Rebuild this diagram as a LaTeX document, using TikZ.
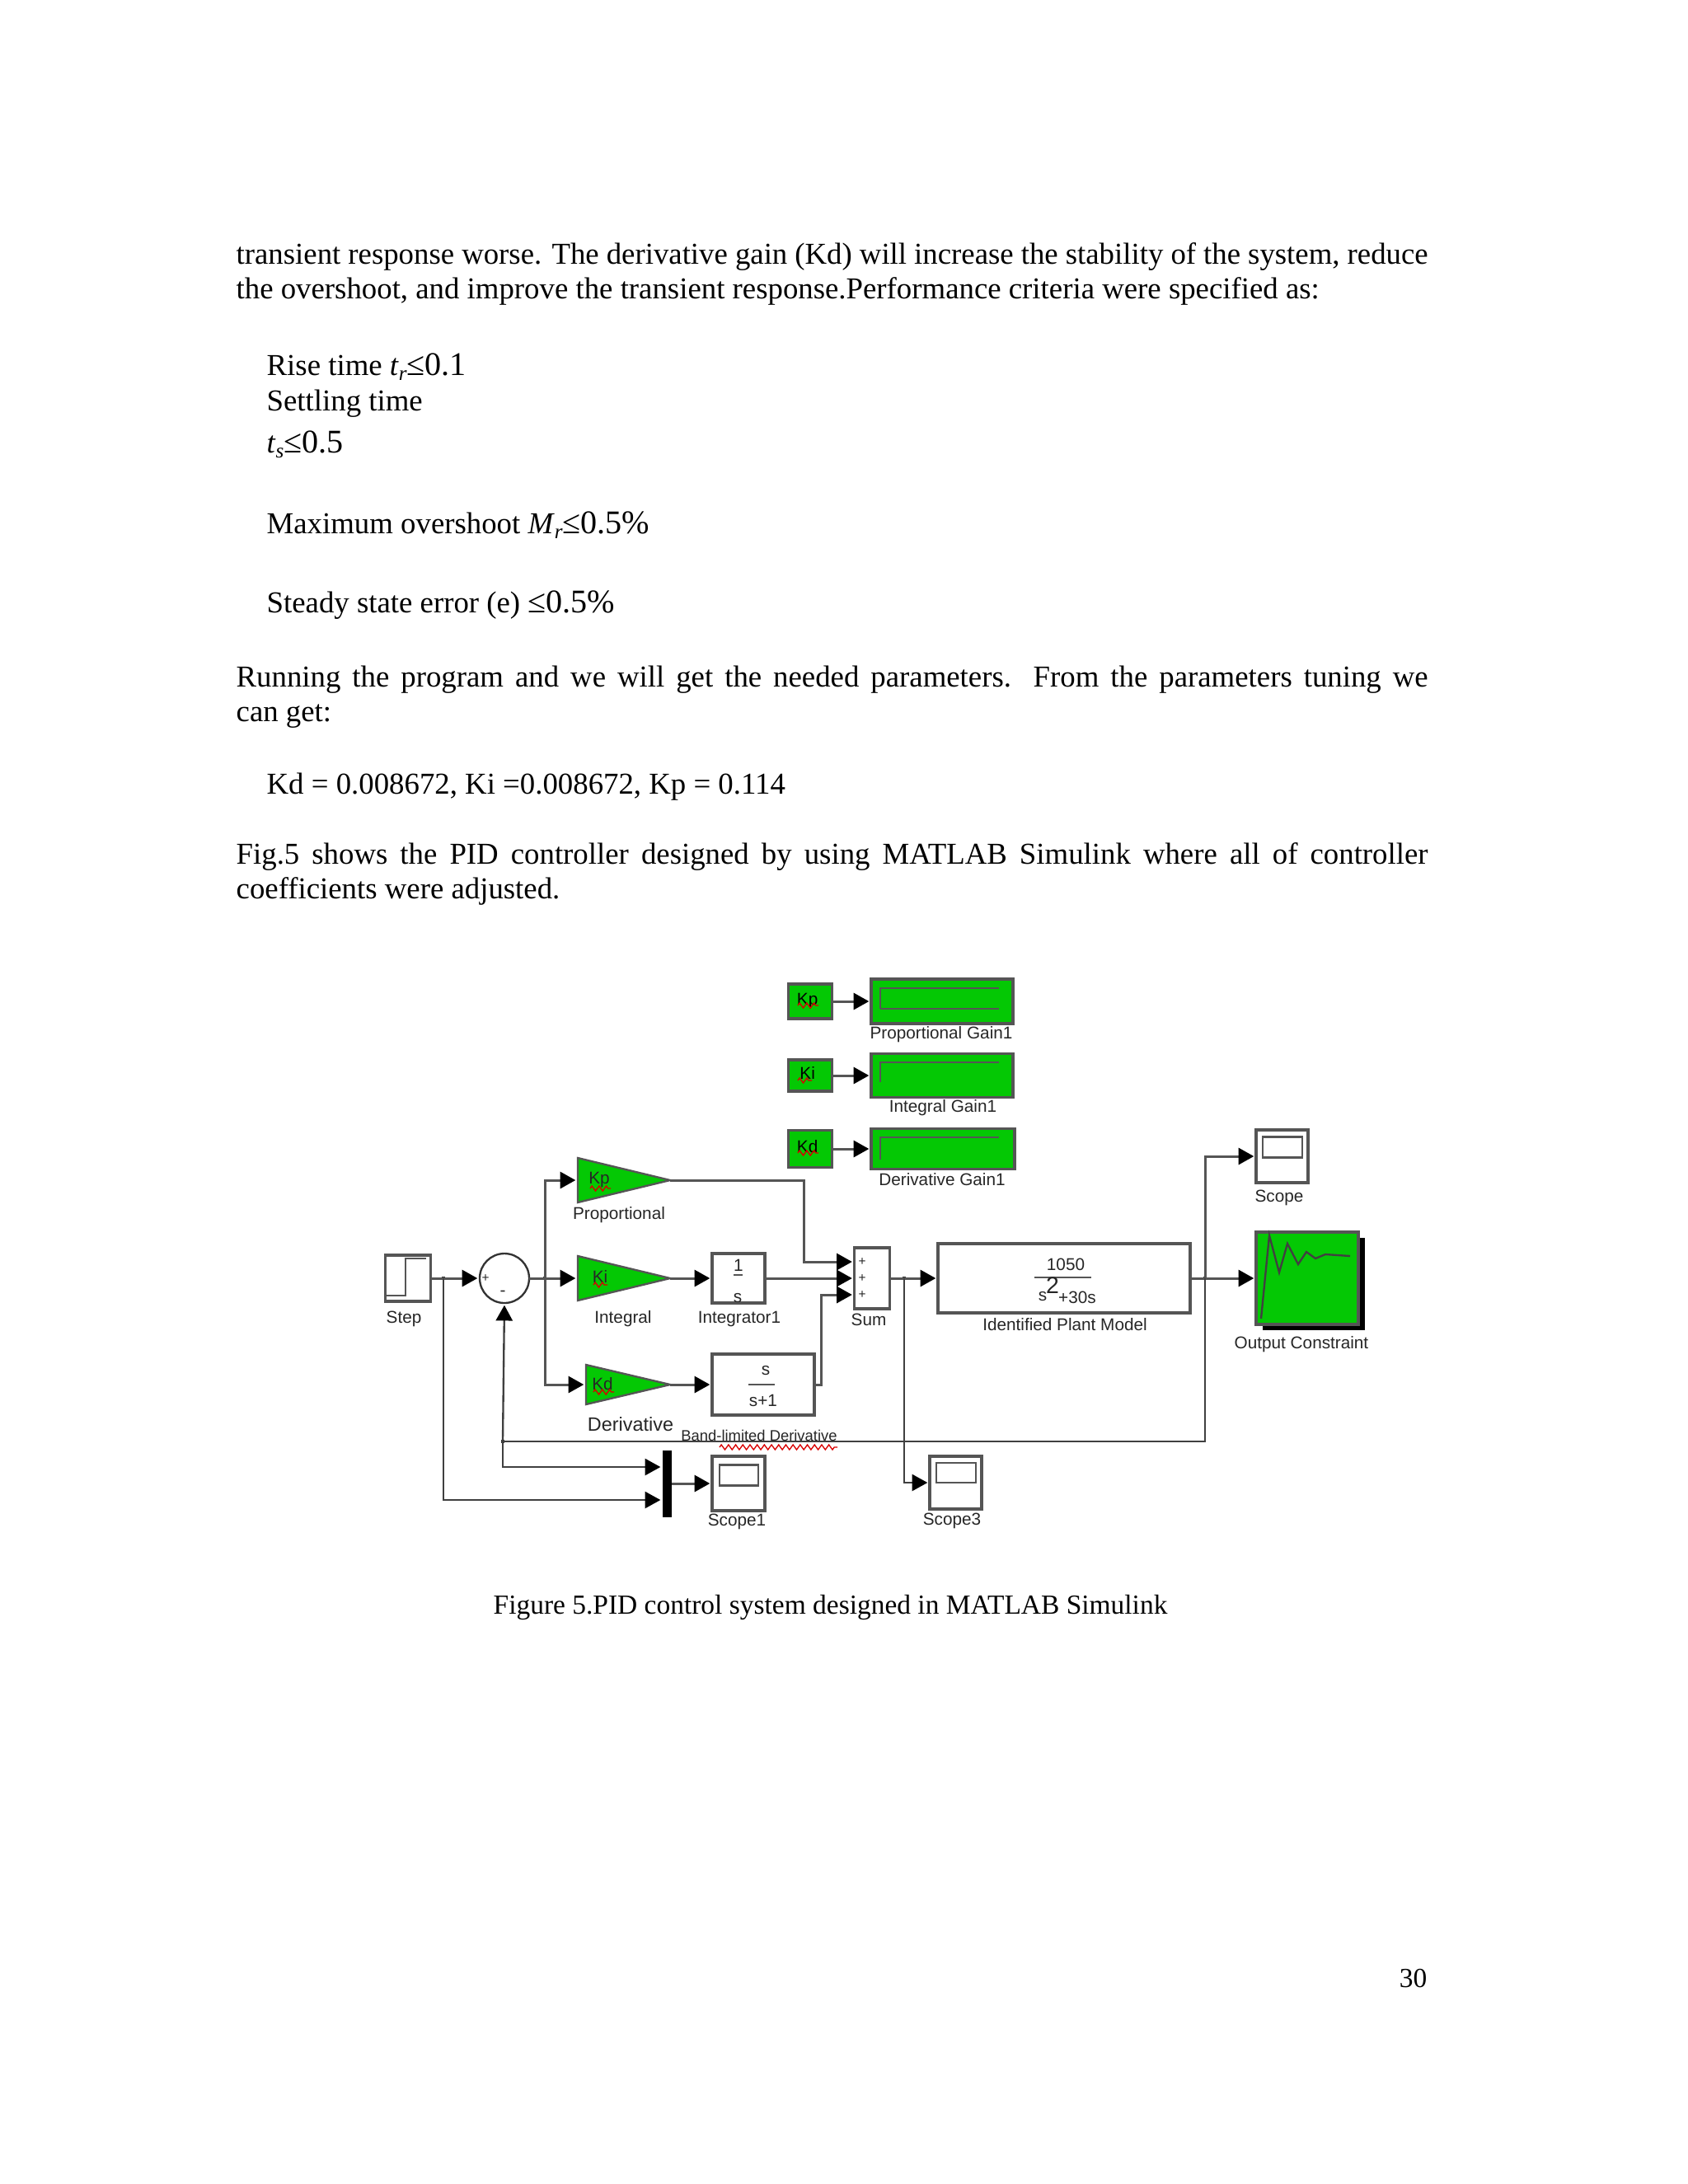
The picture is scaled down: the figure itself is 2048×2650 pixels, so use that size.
\documentclass[tikz,border=0pt]{standalone}
\usepackage{fontspec}
\setmainfont{Liberation Serif}
\setsansfont{Liberation Sans}
\usetikzlibrary{shapes.geometric, arrows.meta, positioning, calc, shadows, decorations.pathmorphing}
\definecolor{simgreen}{RGB}{4, 200, 4}
\definecolor{edge}{RGB}{85, 85, 85}
\def\px{0.2989pt}
\newcommand{\subit}[2]{\textit{#1}\raisebox{-2pt}{\fontsize{7.5}{8}\selectfont\textit{#2}}}
\newcommand{\bigrel}[1]{{\fontsize{12}{14}\selectfont #1}}
\newcommand{\fullline}[1]{\makebox[432.2pt][s]{#1}}
\newcommand{\tagtxt}[1]{\raisebox{1.6pt}{#1\hspace{2pt}}}
\tikzset{
    wh/.style 2 args={minimum width=#1*\px, minimum height=#2*\px},
    pline/.style={anchor=base west, inner sep=0pt, font=\fontsize{11}{13}\selectfont},
    block/.style={rectangle, draw=edge, line width=1pt, inner sep=0pt, outer sep=0pt, fill=white},
    gblock/.style={block, fill=simgreen, font=\sffamily\fontsize{6.2}{8}\selectfont},
    gain/.style={isosceles triangle, isosceles triangle stretches, shape border rotate=0, anchor=apex, draw=edge, line width=0.7pt, fill=simgreen, inner sep=0pt, outer sep=0pt},
    lbl/.style={inner sep=0pt, text=black!85, font=\sffamily\fontsize{6.2}{8}\selectfont},
    gtag/.style={lbl, font=\sffamily\fontsize{6.2}{8}\selectfont},
    tfnum/.style={lbl, font=\sffamily\fontsize{6.2}{8}\selectfont},
    sgn/.style={lbl, font=\sffamily\fontsize{4.6}{5}\selectfont},
    junc/.style={rectangle, fill=black!80, inner sep=0pt, minimum size=1.3pt},
    wire/.style={edge, line width=0.9pt},
    thin wire/.style={black!75, line width=0.7pt},
    arr/.style={wire, -{Triangle[length=5.6pt, width=6pt, black]}, shorten >=0.8pt},
    squig/.style={red!85!black, line width=0.4pt, decorate, decoration={zigzag, amplitude=0.9pt, segment length=2.6pt}}
}
\begin{document}
\begin{tikzpicture}[x=\px, y=-\px]
    \useasboundingbox (0,0) rectangle (2048,2650);
    \node[pline] (t1) at (286,320) {\fullline{transient response worse. The derivative gain (Kd) will increase the stability of the system, reduce}};
    \node[pline] (t2) at (286,362) {the overshoot, and improve the transient response.Performance criteria were specified as:};
    \node[pline] (t3) at (323,455) {Rise time \subit{t}{r}\bigrel{≤0.1}};
    \node[pline] (t4) at (323,498) {Settling time};
    \node[pline] (t5) at (323,549) {\subit{t}{s}\bigrel{≤0.5}};
    \node[pline] (t6) at (323,647) {Maximum overshoot \subit{M}{r}\bigrel{≤0.5\%}};
    \node[pline] (t7) at (323,743) {Steady state error (e) \bigrel{≤0.5\%}};
    \node[pline] (t8) at (286,833) {\fullline{Running the program and we will get the needed parameters. From the parameters tuning we}};
    \node[pline] (t9) at (286,875) {can get:};
    \node[pline] (t10) at (323,963) {Kd = 0.008672, Ki =0.008672, Kp = 0.114};
    \node[pline] (t11) at (286,1048) {\fullline{Fig.5 shows the PID controller designed by using MATLAB Simulink where all of controller}};
    \node[pline] (t12) at (286,1090) {coefficients were adjusted.};
    \node[pline, font=\fontsize{10}{12}\selectfont] (cap) at (598,1958) {Figure 5.PID control system designed in MATLAB Simulink};
    \node[pline, anchor=base east, font=\fontsize{10}{12}\selectfont] (pageno) at (1732,2411) {30};

    \node[lbl] (lpg) at (1142,1255) {Proportional Gain1};
    \node[lbl] (lig) at (1144,1344) {Integral Gain1};
    \node[lbl] (ldg) at (1143,1431) {Derivative Gain1};

    \node[gblock, wh={53}{42}] (kpc) at (983,1215) {\tagtxt{Kp}};
    \node[gblock, wh={53}{38}] (kic) at (983,1305) {\tagtxt{Ki}};
    \node[gblock, wh={53}{45}] (kdc) at (983,1394) {\tagtxt{Kd}};
    \node[block, fill=simgreen, wh={172}{54}] (kpd) at (1143,1215) {};
    \node[block, fill=simgreen, wh={172}{53}] (kid) at (1143,1305) {};
    \node[block, fill=simgreen, wh={174}{49}] (kdd) at (1144,1394) {};
    \draw[edge, line width=0.8pt] (1068,1224) -- (1068,1199) -- (1212,1199);
    \draw[edge, line width=0.8pt] (1068,1224) -- (1212,1224);
    \draw[edge, line width=0.8pt] (1068,1313) -- (1068,1289) -- (1212,1289);
    \draw[edge, line width=0.8pt] (1068,1407) -- (1068,1380) -- (1212,1380);
    \draw[arr] (kpc) -- (kpd);
    \draw[arr] (kic) -- (kid);
    \draw[arr] (kdc) -- (kdd);

    \node[gain, wh={54}{112}] (kpgain) at (813,1432) {};
    \node[gain, wh={54}{112}] (kigain) at (813,1551) {};
    \node[gain, wh={48}{102}] (kdgain) at (813,1680) {};
    \node[gtag] (kptag) at (727,1431) {Kp};
    \node[gtag] (kitag) at (728,1549) {Ki};
    \node[gtag] (kdtag) at (731,1679) {Kd};
    \node[lbl] (lkp) at (751,1474) {Proportional};
    \node[lbl] (lki) at (756,1600) {Integral};
    \node[lbl, font=\sffamily\fontsize{7}{8}\selectfont] (lkd) at (765,1728) {Derivative};

    \node[block, wh={55}{56}] (stepb) at (495,1551) {};
    \draw[edge, line width=0.8pt] (468,1572) -- (492,1572) -- (492,1527) -- (517,1527);
    \node[lbl] (lstep) at (490,1600) {Step};
    \node[circle, draw=black!80, line width=0.7pt, fill=white, inner sep=0pt, outer sep=0pt, minimum size=60*\px] (sumc) at (612,1551) {};
    \node[sgn] (plus) at (589,1551) {+};
    \node[lbl] (minus) at (610,1569) {-};

    \node[block, wh={64}{60}] (intb) at (896,1551) {};
    \node[tfnum] (intn) at (896,1535) {1};
    \draw[edge, line width=0.8pt] (890,1547) -- (901,1547);
    \node[tfnum, anchor=north] (intd) at (895,1569) {s};
    \draw[edge, line width=0.9pt] (864,1581) -- (928,1581);
    \node[lbl] (lint) at (897,1600) {Integrator1};

    \node[block, wh={124}{74}] (tfb) at (926,1680) {};
    \node[tfnum] (tfn) at (929,1663) {s};
    \draw[edge, line width=0.8pt] (908,1680) -- (940,1680);
    \node[tfnum] (tfd) at (926,1699) {s+1};
    \node[lbl, font=\sffamily\fontsize{5.5}{7}\selectfont] (ltf) at (921,1742) {Band-limited Derivative};

    \node[block, wh={43}{74}] (sumb) at (1058,1551) {};
    \node[sgn] (p1) at (1046,1531) {+};
    \node[sgn] (p2) at (1046,1551) {+};
    \node[sgn] (p3) at (1046,1571) {+};
    \node[lbl] (lsum) at (1054,1601) {Sum};

    \node[block, wh={306}{84}] (plant) at (1291,1551) {};
    \node[tfnum] (pln) at (1293,1534) {1050};
    \draw[edge, line width=0.8pt] (1255,1550) -- (1324,1550);
    \node[tfnum] (pld) at (1265,1573) {s};
    \node[lbl, font=\sffamily\fontsize{8.5}{9}\selectfont] (pl2) at (1277,1560) {2};
    \node[tfnum] (pld2) at (1307,1574) {+30s};
    \node[lbl] (lpl) at (1292,1607) {Identified Plant Model};

    \node[block, wh={63}{64}] (scopea) at (1555.5,1403) {};
    \node[rectangle, draw=edge, line width=0.8pt, inner sep=0pt, wh={48}{25}] (scra) at (1556,1392) {};
    \node[lbl] (lsa) at (1552,1453) {Scope};
    \node[block, fill=simgreen, wh={124}{112}, drop shadow={shadow xshift=2.4pt, shadow yshift=-2.2pt, opacity=1, fill=black}] (outb) at (1586,1551) {};
    \draw[black!75, line width=0.7pt] (1530,1600) -- (1540,1499) -- (1552,1544) -- (1562,1509) -- (1575,1534) -- (1585,1519) -- (1596,1527) -- (1608,1522) -- (1638,1524);
    \node[lbl] (lout) at (1579,1631) {Output Constraint};

    \node[block, wh={63}{64}] (scopec) at (1159.5,1799) {};
    \node[rectangle, draw=edge, line width=0.8pt, inner sep=0pt, wh={48}{24}] (scrc) at (1160,1787) {};
    \node[lbl] (lsc) at (1155,1845) {Scope3};
    \node[block, wh={64}{66}] (scopeb) at (896,1800) {};
    \node[rectangle, draw=edge, line width=0.8pt, inner sep=0pt, wh={47}{25}] (scrb) at (896.5,1790) {};
    \node[lbl] (lsb) at (894,1846) {Scope1};
    \node[rectangle, fill=black, inner sep=0pt, outer sep=0pt, wh={11}{81}] (mux) at (809.5,1800) {};

    \node[junc] (jstep) at (538,1551) {};
    \node[junc] (jsum) at (661,1551) {};
    \node[junc] (jsumout) at (1097,1551) {};
    \node[junc] (jplant) at (1462,1551) {};
    \node[junc] (jfb) at (610,1749) {};
    \coordinate (kpdrop) at (975,1531);
    \coordinate (tfup) at (996,1571);
    \coordinate (muxa) at (mux.west |- 0,1780);
    \coordinate (muxb) at (mux.west |- 0,1820);

    \draw[arr] (stepb) -- (sumc);
    \draw[arr] (sumc) -- (kigain.west);
    \draw[arr] (jsum.center) |- (kpgain.west);
    \draw[arr] (jsum.center) |- (kdgain.west);
    \draw[arr] (kigain.apex) -- (intb);
    \draw[arr] (kdgain.apex) -- (tfb);
    \draw[arr] (kpgain.apex) -| (kpdrop) -- (kpdrop -| sumb.west);
    \draw[arr] (intb) -- (sumb);
    \draw[arr] (tfb.east) -| (tfup) -- (tfup -| sumb.west);
    \draw[arr] (sumb) -- (plant);
    \draw[arr] (plant) -- (outb);
    \draw[arr] (jplant.center) |- (scopea.west);
    \draw[thin wire] (jplant.center) |- (jfb.center);
    \draw[arr, thin wire] (jfb.center) -- (sumc.south);
    \draw[arr, thin wire] (jfb.center) |- (muxa);
    \draw[arr, thin wire] (jstep.center) |- (muxb);
    \draw[arr, thin wire] (jsumout.center) |- (scopec.west);
    \draw[arr] (mux) -- (scopeb);

    \draw[squig] (968,1220) -- (993,1220);
    \draw[squig] (968,1311) -- (985,1311);
    \draw[squig] (968,1399) -- (993,1399);
    \draw[squig] (716,1442) -- (741,1442);
    \draw[squig] (720,1559) -- (737,1559);
    \draw[squig] (720,1689) -- (745,1689);
    \draw[squig] (873,1756) -- (1016,1756);
\end{tikzpicture}
\end{document}
